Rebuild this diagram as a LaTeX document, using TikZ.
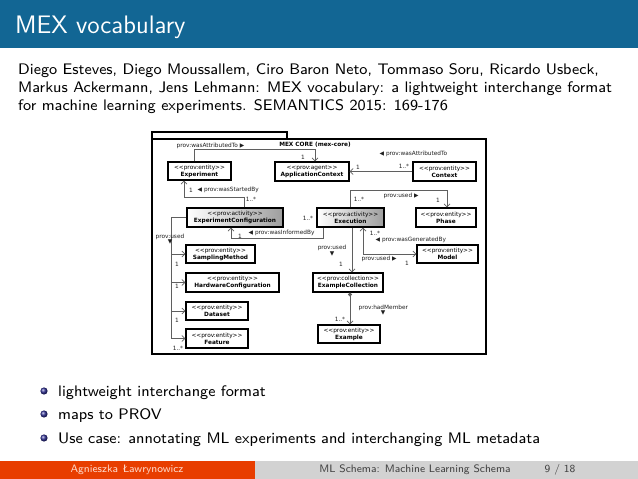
\documentclass[tikz,border=0pt]{standalone}
\usepackage{fontspec}
\newfontfamily\umlfont{DejaVu Sans}
\newfontfamily\sfeight{lmsans8-regular.otf}
\newfontfamily\sftwelve{lmsans12-regular.otf}
\usetikzlibrary{arrows.meta}
\definecolor{titlebg}{RGB}{18,102,148}
\definecolor{footorange}{RGB}{232,62,0}
\definecolor{footgrey}{RGB}{210,210,210}
\definecolor{footlight}{RGB}{255,220,205}
\definecolor{linegrey}{RGB}{95,95,95}
\definecolor{bulletblue}{RGB}{50,50,150}
\newcommand\stereo[1]{<\kern0pt<#1>\kern0pt>}
\begin{document}
\begin{tikzpicture}[x=1pt,y=-1pt,
  umlbox/.style={draw=black, line width=1.1pt, fill=white, inner sep=0pt, align=center,
    font=\umlfont\fontsize{5.8}{7}\selectfont, text=black},
  activity/.style={umlbox, left color=white, right color=black!38},
  conn/.style={draw=linegrey, line width=0.7pt},
  nav/.style={-{Straight Barb[length=3pt,width=6pt]}},
  lbl/.style={font=\umlfont\fontsize{5.8}{7}\selectfont, text=black!88, inner sep=0.5pt},
  slide/.style={font=\sfeight\fontsize{15.3}{17}\selectfont, inner sep=0pt, anchor=base west},
  bullet/.style={ball color=bulletblue, draw=none},
  foot/.style={font=\sfeight\fontsize{10.8}{12}\selectfont, inner sep=0pt}
]
\useasboundingbox (0,0) rectangle (638,479);
\fill[white] (0,0) rectangle (638,479);
% title bar
\fill[titlebg] (0,0) rectangle (638,48);
\node[anchor=base west, text=white, font=\sftwelve\fontsize{25.3}{26}\selectfont, inner sep=0pt] (title) at (15,34) {MEX vocabulary};
% reference text
\node[slide] (l1) at (18,74) {Diego Esteves, Diego Moussallem, Ciro Baron Neto, Tommaso Soru, Ricardo Usbeck,};
\node[slide] (l2) at (18,92) {Markus Ackermann, Jens Lehmann: MEX vocabulary: a lightweight interchange format};
\node[slide] (l3) at (18,110) {for machine learning experiments. SEMANTICS 2015: 169-176};

% diagram frame
\draw[line width=1.1pt] (152,132) rectangle (287,139);
\draw[line width=1.1pt] (152,139) rectangle (486,354);
\node[font=\umlfont\bfseries\fontsize{5.8}{7}\selectfont, inner sep=0pt] (core) at (315,145) {MEX CORE (mex-core)};

% boxes
\node[umlbox, minimum width=63, minimum height=18] (exp) at (199.5,171) {\stereo{prov:entity}\\\textbf{Experiment}};
\node[umlbox, minimum width=74, minimum height=19] (app) at (312,171.5) {\stereo{prov:agent}\\\textbf{ApplicationContext}};
\node[umlbox, minimum width=63, minimum height=19] (ctx) at (444.5,171.5) {\stereo{prov:entity}\\\textbf{Context}};
\node[activity, minimum width=96, minimum height=19] (ec) at (235,217.5) {\stereo{prov:activity}\\\textbf{ExperimentConfiguration}};
\node[activity, minimum width=67, minimum height=19] (exe) at (350.5,217.5) {\stereo{prov:activity}\\\textbf{Execution}};
\node[umlbox, minimum width=60, minimum height=19] (phase) at (446,217.5) {\stereo{prov:entity}\\\textbf{Phase}};
\node[umlbox, minimum width=69, minimum height=18] (sm) at (220.5,254) {\stereo{prov:entity}\\\textbf{SamplingMethod}};
\node[umlbox, minimum width=61, minimum height=18] (model) at (447.5,254) {\stereo{prov:entity}\\\textbf{Model}};
\node[umlbox, minimum width=93, minimum height=19] (hw) at (232.5,282.5) {\stereo{prov:entity}\\\textbf{HardwareConfiguration}};
\node[umlbox, minimum width=70, minimum height=19] (ecol) at (348,282.5) {\stereo{prov:collection}\\\textbf{ExampleCollection}};
\node[umlbox, minimum width=62, minimum height=18] (ds) at (217,311) {\stereo{prov:entity}\\\textbf{Dataset}};
\node[umlbox, minimum width=62, minimum height=19] (feat) at (217,338.5) {\stereo{prov:entity}\\\textbf{Feature}};
\node[umlbox, minimum width=62, minimum height=18] (ex) at (349,334) {\stereo{prov:entity}\\\textbf{Example}};

% connectors
\draw[conn, nav] ([xshift=-5.5]exp.north) -- ++(0,-12) -| ([xshift=3]app.north);
\draw[conn, nav] (ctx.west) -- (app.east);
\draw[conn, nav] ([xshift=9]ec.north) -- ++(0,-10) -| ([xshift=-15.5]exp.south);
\draw[conn, nav] ([xshift=-27.5]exe.south) -- ++(0,11) -| ([xshift=-4]ec.south);
\draw[conn, nav] ([xshift=-0.5]exe.north) -- ++(0,-17) -| ([xshift=1]phase.north);
\draw[conn, {Straight Barb[length=3pt,width=6pt]}-{Straight Barb[length=3pt,width=6pt]}] ([xshift=12.5]exe.south) |- (model.west);
\draw[conn, nav] ([xshift=1.5]exe.south) -- ([xshift=1.5]exe.south |- ecol.north);
\draw[conn, {Circle[length=4pt]}-{Straight Barb[length=3pt,width=6pt]}] ([xshift=2]ecol.south) -- ([xshift=1]ex.north);
\coordinate (tr) at (171,217.5);
\draw[conn, nav] (ec.west) -- (tr) |- (feat.west);
\draw[conn, nav] (tr |- sm.west) -- (sm.west);
\draw[conn, nav] (tr |- hw.west) -- (hw.west);
\draw[conn, nav] (tr |- ds.west) -- (ds.west);

% connector labels
\node[lbl, anchor=west] (a1) at (176,146) {prov:wasAttributedTo ▶};
\node[lbl] (a2) at (303,157) {1};
\node[lbl, anchor=west] (a3) at (379,154) {◀ prov:wasAttributedTo};
\node[lbl] (a4) at (358,167) {1};
\node[lbl] (a5) at (404,166) {1..*};
\node[lbl] (a6) at (191,190) {1};
\node[lbl, anchor=west] (a7) at (197,190) {◀ prov:wasStartedBy};
\node[lbl] (a8) at (251,199) {1..*};
\node[lbl] (a9) at (308,218) {1..*};
\node[lbl] (a10) at (240,236) {1};
\node[lbl, anchor=west] (a11) at (248,233) {◀ prov:wasInformedBy};
\node[lbl] (a12) at (359,199) {1..*};
\node[lbl, anchor=west] (a13) at (383,196) {prov:used ▶};
\node[lbl] (a14) at (438,200) {1};
\node[lbl] (a15) at (375,233) {1..*};
\node[lbl, anchor=west] (a16) at (375,240) {◀ prov:wasGeneratedBy};
\node[lbl, anchor=west] (a17) at (361,259) {prov:used ▶};
\node[lbl] (a18) at (407,263) {1};
\node[lbl] (a19) at (332,248) {prov:used};
\node[lbl] (a20) at (332,254) {▼};
\node[lbl] (a21) at (341,264) {1};
\node[lbl, anchor=west] (a22) at (358,308) {prov:hadMember};
\node[lbl] (a23) at (383,313) {▼};
\node[lbl] (a24) at (340,319) {1..*};
\node[lbl] (a25) at (170,237) {prov:used};
\node[lbl] (a26) at (170,242) {▼};
\node[lbl] (a27) at (177,264) {1};
\node[lbl] (a28) at (177,286) {1};
\node[lbl] (a29) at (177,320) {1};
\node[lbl] (a30) at (178,348) {1..*};

% bullets
\shade[bullet] (44,391) circle (3.6);
\shade[bullet] (44,414) circle (3.6);
\shade[bullet] (44,438) circle (3.6);
\node[slide] (b1) at (58,396) {lightweight interchange format};
\node[slide] (b2) at (58,419) {maps to PROV};
\node[slide] (b3) at (58,443) {Use case: annotating ML experiments and interchanging ML metadata};

% footer
\fill[footorange] (0,461) rectangle (255,479);
\fill[footgrey] (255,461) rectangle (638,479);
\node[foot, text=footlight] (f1) at (127,470) {Agnieszka Ławrynowicz};
\node[foot, text=black!75] (f2) at (415,470) {ML Schema: Machine Learning Schema};
\node[foot, text=black!75] (f3) at (560,470) {9 / 18};
\end{tikzpicture}
\end{document}
